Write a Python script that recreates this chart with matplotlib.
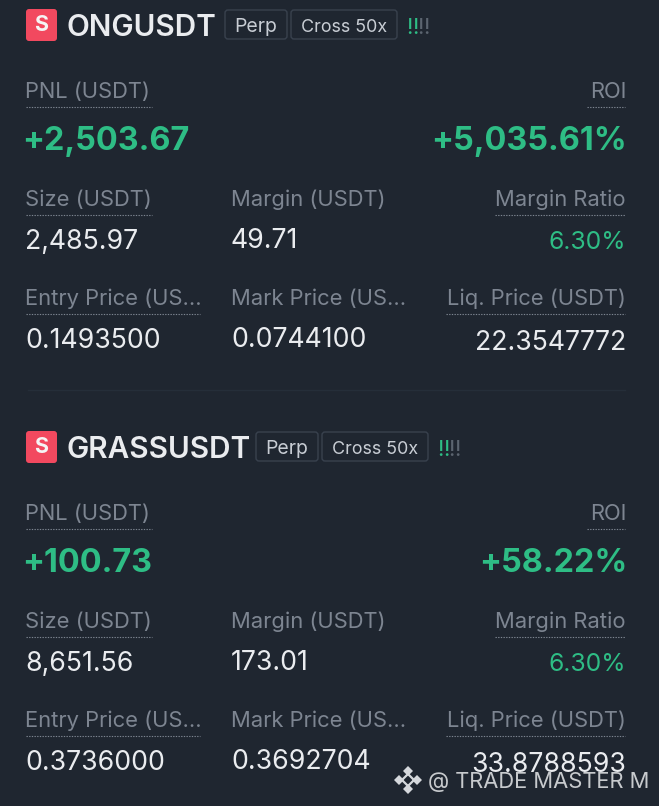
import matplotlib
matplotlib.use("Agg")
import matplotlib.pyplot as plt
from matplotlib.patches import FancyBboxPatch

W, H = 659, 806
BG = "#1f2630"
GREEN = "#2ebd85"
GREY = "#7d8591"
WHITE = "#eaecef"
FONT = "Inter"

symbols = ["ONGUSDT", "GRASSUSDT"]
pnl = ["+2,503.67", "+100.73"]
roi = ["+5,035.61%", "+58.22%"]
size_usdt = ["2,485.97", "8,651.56"]
margin = ["49.71", "173.01"]
margin_ratio = ["6.30%", "6.30%"]
entry = ["0.1493500", "0.3736000"]
mark = ["0.0744100", "0.3692704"]
liq = ["22.3547772", "33.8788593"]
offsets = [0, 422]
tag_x = [225, 256]

fig = plt.figure(figsize=(W / 100, H / 100), dpi=100, facecolor=BG)
ax = fig.add_axes([0, 0, 1, 1])
ax.set_xlim(0, W)
ax.set_ylim(H, 0)
ax.axis("off")

def t(x, y, s, size, color, ha="left", weight="normal", alpha=1, z=3):
    return ax.text(x, y, s, fontsize=size, color=color, ha=ha, va="baseline",
                   family=FONT, fontweight=weight, alpha=alpha, zorder=z)

LAB = 15.8
NUM = 19.2

def label(x, y, s, ha="left", x0=None, x1=None):
    t(x, y, s, LAB, GREY, ha)
    ax.plot([x0, x1], [y + 9, y + 9], color=GREY, lw=0.8, ls=(0, (1.2, 1.2)))

def tag(x, y, w, s, size):
    ax.add_patch(FancyBboxPatch((x, y), w, 29, boxstyle="round,pad=0,rounding_size=3",
                                 fc="none", ec="#39424e", lw=1))
    t(x + w / 2, y + 22, s, size, "#c8cdd4", "center")

for i, dy in enumerate(offsets):
    ax.add_patch(FancyBboxPatch((26, 9 + dy), 31, 32, boxstyle="round,pad=0,rounding_size=3",
                                 fc="#f2495f", ec="none"))
    t(41.5, 31 + dy, "S", 15.5, "#f5f5f5", "center", "bold")
    t(67, 36 + dy, symbols[i], 21.4, WHITE, weight="semibold")
    tx = tag_x[i]
    tag(tx, 10 + dy, 62, "Perp", 14)
    tag(tx + 66, 10 + dy, 106, "Cross 50x", 12.9)
    for k, c in enumerate([GREEN, GREEN, "#5c6570", "#5c6570"]):
        t(tx + 181 + k * 5.8, 34 + dy, "!", 16, c, "left")

    label(25, 98 + dy, "PNL (USDT)", x0=26, x1=152)
    label(626, 98 + dy, "ROI", "right", 587, 625)
    t(22, 150 + dy, pnl[i], 23.3, GREEN, weight="bold")
    t(627, 150 + dy, roi[i], 23.3, GREEN, "right", "bold")

    label(25, 206 + dy, "Size (USDT)", x0=26, x1=152)
    t(231, 206 + dy, "Margin (USDT)", LAB, GREY)
    label(626, 206 + dy, "Margin Ratio", "right", 495, 625)
    t(25, 249 + dy, size_usdt[i], NUM, WHITE)
    t(231, 248 + dy, margin[i], NUM, WHITE)
    t(626, 249 + dy, margin_ratio[i], 17.8, GREEN, "right")

    label(25, 305 + dy, "Entry Price (US...", x0=26, x1=200)
    t(231, 305 + dy, "Mark Price (US...", LAB, GREY)
    label(626, 305 + dy, "Liq. Price (USDT)", "right", 446, 625)
    t(25, 348 + dy, entry[i], NUM, WHITE)
    t(231, 347 + dy, mark[i], NUM, WHITE)
    t(626, 350 + dy, liq[i], NUM, WHITE, "right")

ax.plot([28, 625], [390, 390], color="#252e39", lw=1)

t(428, 788, "@ TRADE MASTER M", 15.8, "#e6e8ea", alpha=0.85, z=5)
for dx, dy_ in [(0, -9), (0, 9), (-9, 0), (9, 0)]:
    ax.plot([408 + dx], [780 + dy_], marker="D", ms=4.6, color="#d5d8dc", mew=0, zorder=5)
ax.plot([408], [780], marker="D", ms=6, mfc="none", mec="#d5d8dc", mew=1.6, zorder=5)

fig.savefig("out.png", dpi=100, facecolor=BG)
